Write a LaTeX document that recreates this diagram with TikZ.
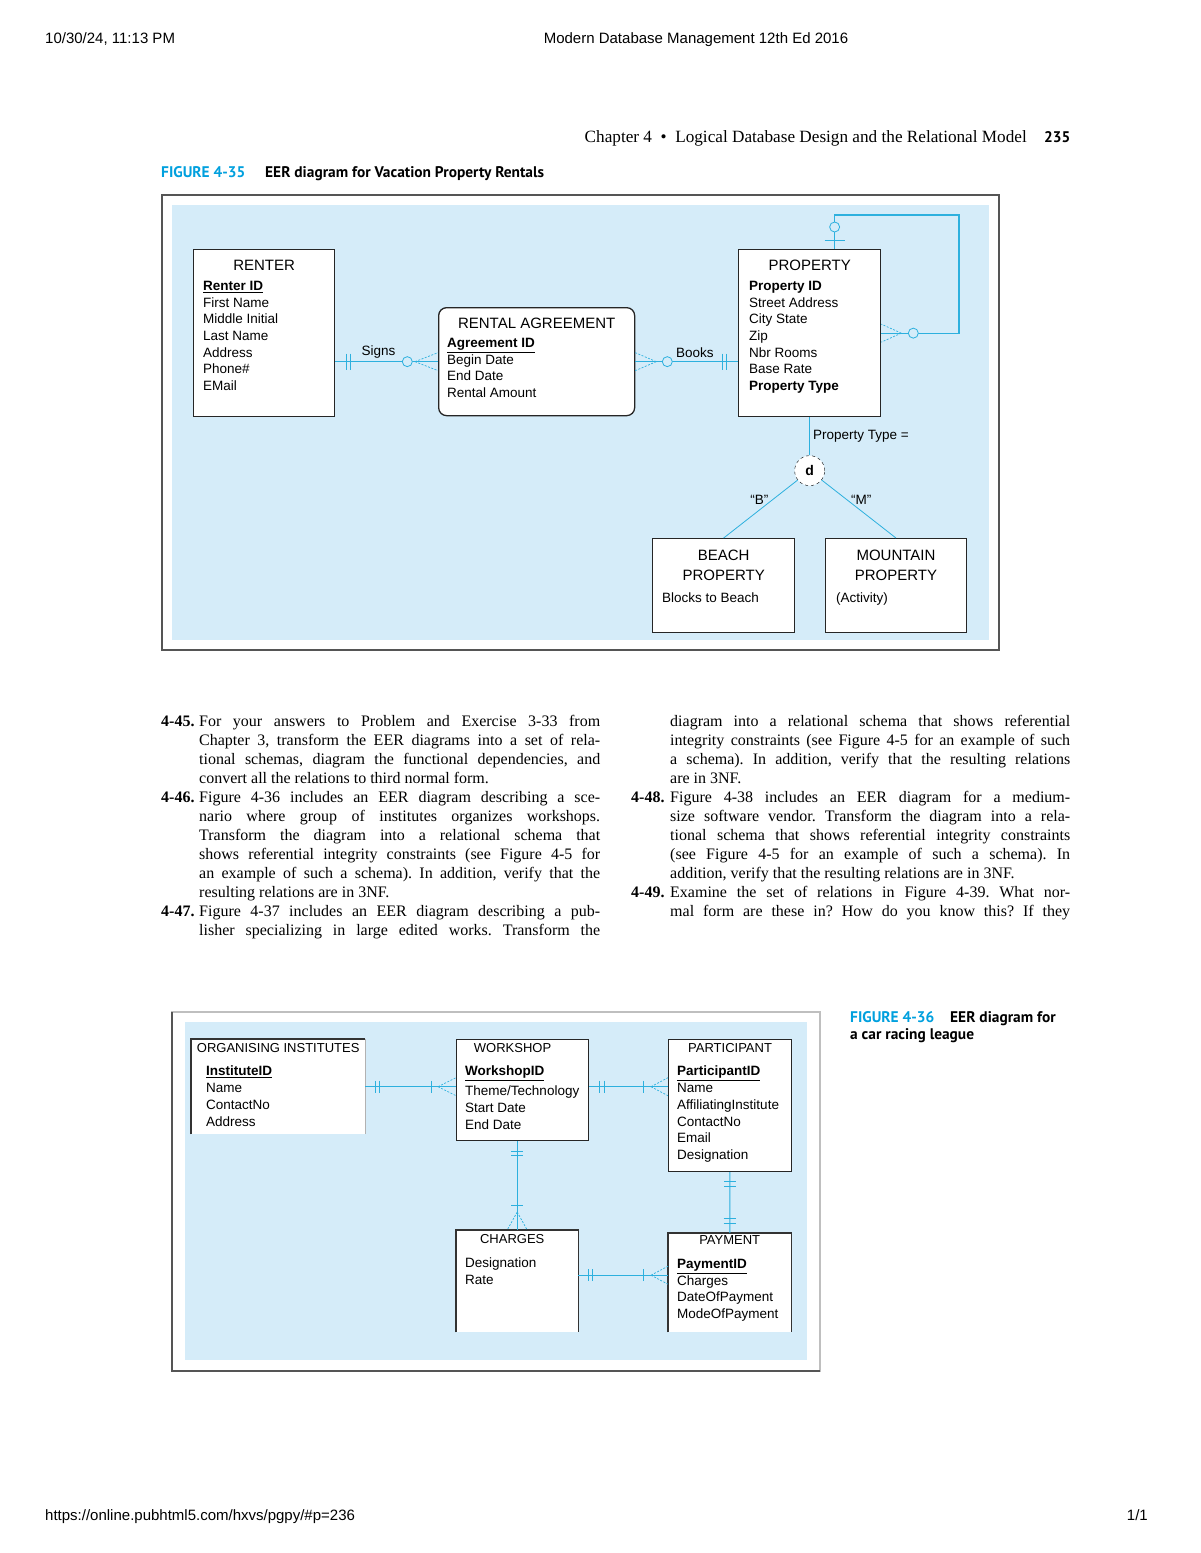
\documentclass[tikz,border=0pt]{standalone}
\usepackage{fontspec}
\setmainfont{Liberation Serif}
\setsansfont{Liberation Sans}
\newfontfamily\capfont{PT Sans}
\usetikzlibrary{shapes,arrows}
\usetikzlibrary{shapes.geometric}
\usetikzlibrary{positioning}

\definecolor{bluebg}{RGB}{213,236,249}
\definecolor{relcol}{RGB}{45,176,222}
\definecolor{figcyan}{RGB}{0,160,222}
\definecolor{framegray}{RGB}{85,85,85}

\tikzstyle{entity} = [draw=black!85, fill=white, rectangle, line width=1.3pt,
anchor=north west, inner sep=0pt]
\tikzstyle{ebox} = [fill=white, rectangle, anchor=north west, inner sep=0pt]
\tikzstyle{border} = [draw=black!80, line width=1.1pt]
\tikzstyle{etitle} = [font=\sffamily\fontsize{15}{20}\selectfont, align=center, inner sep=0pt]
\tikzstyle{stitle} = [font=\sffamily\fontsize{13}{16}\selectfont, inner sep=0pt]
\tikzstyle{attr} = [font=\sffamily\fontsize{13.5}{16.7}\selectfont, align=left, inner sep=0pt]
\tikzstyle{lbl} = [font=\sffamily\fontsize{13.5}{16}\selectfont, inner sep=3pt]
\tikzstyle{line} = [draw=relcol, line width=1.1pt]
\tikzstyle{sline} = [draw=relcol, line width=0.8pt]
\tikzstyle{cbar} = [draw=relcol, line width=1pt]
\tikzstyle{crow} = [draw=relcol, line width=0.7pt, dash pattern=on 2pt off 1.5pt]
\tikzstyle{ring} = [draw=relcol, line width=0.8pt, fill=bluebg]
\tikzstyle{dnode} = [circle, draw=black, dashed, fill=white, minimum size=30pt,
inner sep=0pt, font=\sffamily\bfseries\fontsize{14}{14}\selectfont]
\tikzstyle{hdr} = [font=\sffamily\fontsize{15}{18}\selectfont, inner sep=0pt]
\tikzstyle{runhead} = [font=\rmfamily\fontsize{17.2}{19}\selectfont, inner sep=0pt]
\tikzstyle{figcap} = [font=\capfont\bfseries\fontsize{15.4}{17}\selectfont, inner sep=0pt]
\tikzstyle{body} = [font=\rmfamily\fontsize{16}{19}\selectfont, text width=439pt,
align=justify, inner sep=0pt, anchor=north west]

\begin{document}
\begin{tikzpicture}[x=1pt, y=-1pt, node distance=16pt, auto]
	\path[use as bounding box, fill=white] (0,0) rectangle (1200,1553);
	% Page header and footer
	\node[hdr, anchor=base west] (date) at (45,43) {10/30/24, 11:13 PM};
	\node[hdr, anchor=base] (book) at (696,43) {Modern Database Management 12th Ed 2016};
	\node[hdr, anchor=base west] (url) at (45,1520) {https://online.pubhtml5.com/hxvs/pgpy/\#p=236};
	\node[hdr, anchor=base east] (pg) at (1148,1520) {1/1};
	\node[runhead, anchor=base east] (chap) at (1027,142) {Chapter 4 \ \textbullet\ \ Logical Database Design and the Relational Model};
	\node[figcap, anchor=base west] (pnum) at (1044,142) {235};

	% Figure 4-35
	\node[figcap, anchor=base west] (capA) at (161,177) {\textcolor{figcyan}{FIGURE 4-35}};
	\node[figcap, anchor=base west] (capAt) at (265,177) {EER diagram for Vacation Property Rentals};
	\draw[framegray, line width=1.4pt, fill=white] (162,195) rectangle (999,650);
	\fill[bluebg] (172,205) rectangle (989,640);

	% Place nodes
	\node[entity, minimum width=141pt, minimum height=167pt] (renter) at (193,249) {};
	\node[etitle, below=10.5pt of renter.north] (renterT) {RENTER};
	\node[attr, below right=32pt and 10pt of renter.north west] (renterA) {\textbf{\underline{Renter ID}}\\ First Name\\ Middle Initial\\ Last Name\\ Address\\ Phone\#\\ EMail};

	\node[entity, rounded corners=8pt, minimum width=196pt, minimum height=108pt] (agree) at (438,307) {};
	\node[etitle, below=10.5pt of agree.north] (agreeT) {RENTAL AGREEMENT};
	\node[attr, below right=31pt and 9pt of agree.north west] (agreeA) {\textbf{\underline{Agreement ID}}\\ Begin Date\\ End Date\\ Rental Amount};

	\node[entity, minimum width=142pt, minimum height=167pt] (property) at (738,249) {};
	\node[etitle, below=10.5pt of property.north] (propertyT) {PROPERTY};
	\node[attr, below right=32pt and 11pt of property.north west] (propertyA) {\textbf{Property ID}\\ Street Address\\ City State\\ Zip\\ Nbr Rooms\\ Base Rate\\ \textbf{Property Type}};

	\node[dnode, below of=property, node distance=137.5pt] (d) {d};

	\node[entity, minimum width=142pt, minimum height=94pt] (beach) at (652,538) {};
	\node[etitle, below=11.6pt of beach.north] (beachT) {BEACH\\PROPERTY};
	\node[attr, below right=55pt and 10pt of beach.north west] (beachA) {Blocks to Beach};
	\node[entity, minimum width=141pt, minimum height=94pt, right=29.5pt of beach] (mountain) {};
	\node[etitle, below=11.6pt of mountain.north] (mountainT) {MOUNTAIN\\PROPERTY};
	\node[attr, below right=55pt and 11pt of mountain.north west] (mountainA) {(Activity)};

	% Relationships
	\coordinate (sA) at (renter.east |- agree.west);
	\path[line] (sA) -- node[lbl, above, pos=0.42]{Signs} (agree.west);
	\draw[cbar] ([xshift=11pt]sA) +(0,-8) -- +(0,8);
	\draw[cbar] ([xshift=15pt]sA) +(0,-8) -- +(0,8);
	\draw[ring] ([xshift=72pt]sA) circle (5pt);
	\draw[crow] ([xshift=-23pt]agree.west) -- ([yshift=9pt]agree.west) ([xshift=-23pt]agree.west) -- ([yshift=-9pt]agree.west);

	\coordinate (bA) at (property.west |- agree.east);
	\path[line] (agree.east) -- node[lbl, above, pos=0.58]{Books} (bA);
	\draw[crow] ([xshift=21pt]agree.east) -- ([yshift=9pt]agree.east) ([xshift=21pt]agree.east) -- ([yshift=-9pt]agree.east);
	\draw[ring] ([xshift=32pt]agree.east) circle (5pt);
	\draw[cbar] ([xshift=-16pt]bA) +(0,-8) -- +(0,8);
	\draw[cbar] ([xshift=-12pt]bA) +(0,-8) -- +(0,8);

	\coordinate (loop) at (959,215);
	\path[line] ([xshift=25pt]property.north) |- (loop) |- (property.east);
	\draw[ring] ([xshift=25pt, yshift=22pt]property.north) circle (5pt);
	\draw[cbar] ([xshift=25pt, yshift=9pt]property.north) +(-10,0) -- +(10,0);
	\draw[ring] ([xshift=32pt]property.east) circle (5pt);
	\draw[crow] ([xshift=20pt]property.east) -- ([yshift=9pt]property.east) ([xshift=20pt]property.east) -- ([yshift=-9pt]property.east);

	\path[line] (property) -- node[lbl, right]{Property Type =} (d);
	\path[sline] (d) -- node[lbl, left, pos=0.35]{“B”} (beach.north);
	\path[sline] (d) -- node[lbl, right, pos=0.35]{“M”} (mountain.north);

	% Exercises
	\node[body] (colA) at (161,715) {\frenchspacing\tolerance=10000\hyphenpenalty=10000\exhyphenpenalty=10000%
\hangindent=38pt\hangafter=1\noindent\makebox[38pt][l]{\textbf{4-45.}}For your answers to Problem and Exercise 3-33 from\linebreak Chapter 3, transform the EER diagrams into a set of rela-\linebreak tional schemas, diagram the functional dependencies, and\linebreak convert all the relations to third normal form.\par
\hangindent=38pt\hangafter=1\noindent\makebox[38pt][l]{\textbf{4-46.}}Figure 4-36 includes an EER diagram describing a sce-\linebreak nario where group of institutes organizes workshops.\linebreak Transform the diagram into a relational schema that\linebreak shows referential integrity constraints (see Figure 4-5 for\linebreak an example of such a schema). In addition, verify that the\linebreak resulting relations are in 3NF.\par
\hangindent=38pt\hangafter=1\noindent\makebox[38pt][l]{\textbf{4-47.}}Figure 4-37 includes an EER diagram describing a pub-\linebreak lisher specializing in large edited works. Transform the{\parfillskip=0pt\par}};
	\node[body] (colB) at (631,715) {\frenchspacing\tolerance=10000\hyphenpenalty=10000\exhyphenpenalty=10000%
\hangindent=39pt\hangafter=0\noindent diagram into a relational schema that shows referential\linebreak integrity constraints (see Figure 4-5 for an example of such\linebreak a schema). In addition, verify that the resulting relations\linebreak are in 3NF.\par
\hangindent=39pt\hangafter=1\noindent\makebox[39pt][l]{\textbf{4-48.}}Figure 4-38 includes an EER diagram for a medium-\linebreak size software vendor. Transform the diagram into a rela-\linebreak tional schema that shows referential integrity constraints\linebreak (see Figure 4-5 for an example of such a schema). In\linebreak addition, verify that the resulting relations are in 3NF.\par
\hangindent=39pt\hangafter=1\noindent\makebox[39pt][l]{\textbf{4-49.}}Examine the set of relations in Figure 4-39. What nor-\linebreak mal form are these in? How do you know this? If they{\parfillskip=0pt\par}};

	% Figure 4-36
	\node[figcap, anchor=base west] (capB) at (850,1022) {\textcolor{figcyan}{FIGURE 4-36}};
	\node[figcap, anchor=base west] (capBt) at (950,1022) {EER diagram for};
	\node[figcap, anchor=base west] (capBt2) at (850,1039) {a car racing league};
	\draw[black!25, line width=1.2pt, fill=white] (172,1012) rectangle (820,1371);
	\draw[framegray, line width=1.6pt] (172,1012) -- (172,1371) -- (820,1371);
	\fill[bluebg] (185,1022) rectangle (807,1360);

	\node[ebox, minimum width=174pt, minimum height=95pt] (org) at (191,1039) {};
	\draw[border] (org.south west) |- (org.north east);
	\draw[black!30, line width=1pt] (org.north east) -- (org.south east);
	\node[stitle, below=4pt of org.north] (orgT) {ORGANISING INSTITUTES};
	\node[attr, below right=27pt and 15pt of org.north west] (orgA) {\textbf{\underline{InstituteID}}\\ Name\\ ContactNo\\ Address};

	\node[entity, line width=1.1pt, minimum width=132pt, minimum height=101pt] (workshop) at (456,1039) {};
	\node[stitle, below=4pt of workshop.north, xshift=-10pt] (workshopT) {WORKSHOP};
	\node[attr, below right=27pt and 9pt of workshop.north west] (workshopA) {\textbf{\underline{WorkshopID}}\\[3pt] Theme/Technology\\ Start Date\\ End Date};

	\node[entity, line width=1.1pt, minimum width=123pt, minimum height=132pt] (participant) at (668,1039) {};
	\node[stitle, below=4pt of participant.north] (participantT) {PARTICIPANT};
	\node[attr, below right=27pt and 9pt of participant.north west] (participantA) {\textbf{\underline{ParticipantID}}\\ Name\\ AffiliatingInstitute\\ ContactNo\\ Email\\ Designation};

	\node[ebox, minimum width=122pt, minimum height=102pt] (charges) at (456,1230) {};
	\draw[border] (charges.south west) |- (charges.north east) -- (charges.south east);
	\node[stitle, below=4.5pt of charges.north, xshift=-5pt] (chargesT) {CHARGES};
	\node[attr, below right=28pt and 9pt of charges.north west] (chargesA) {Designation\\ Rate};

	\node[ebox, minimum width=123pt, minimum height=99pt] (payment) at (668,1233) {};
	\draw[border] (payment.south west) |- (payment.north east) -- (payment.south east);
	\node[stitle, below=2.5pt of payment.north] (paymentT) {PAYMENT};
	\node[attr, below right=26pt and 9pt of payment.north west] (paymentA) {\textbf{\underline{PaymentID}}\\ Charges\\ DateOfPayment\\ ModeOfPayment};

	\coordinate (ow) at (org.east -| workshop.west);
	\path[line] (org.east) -- (ow);
	\draw[cbar] ([xshift=10pt]org.east) +(0,-6) -- +(0,6);
	\draw[cbar] ([xshift=14pt]org.east) +(0,-6) -- +(0,6);
	\draw[cbar] ([xshift=-25pt]ow) +(0,-6) -- +(0,6);
	\draw[crow] ([xshift=-18pt]ow) -- ([yshift=9pt]ow) ([xshift=-18pt]ow) -- ([yshift=-9pt]ow);

	\coordinate (wo) at (org.east -| workshop.east);
	\coordinate (wp) at (org.east -| participant.west);
	\path[line] (wo) -- (wp);
	\draw[cbar] ([xshift=10pt]wo) +(0,-6) -- +(0,6);
	\draw[cbar] ([xshift=15pt]wo) +(0,-6) -- +(0,6);
	\draw[cbar] ([xshift=-25pt]wp) +(0,-6) -- +(0,6);
	\draw[crow] ([xshift=-17pt]wp) -- ([yshift=9pt]wp) ([xshift=-17pt]wp) -- ([yshift=-9pt]wp);

	\coordinate (wc) at (workshop.south -| charges.north);
	\path[line] (wc) -- (charges.north);
	\draw[cbar] ([yshift=-10pt]wc) +(-6,0) -- +(6,0);
	\draw[cbar] ([yshift=-14pt]wc) +(-6,0) -- +(6,0);
	\draw[cbar] ([yshift=25pt]charges.north) +(-6,0) -- +(6,0);
	\draw[crow] ([yshift=18pt]charges.north) -- ([xshift=-10pt]charges.north) ([yshift=18pt]charges.north) -- ([xshift=10pt]charges.north);

	\path[line] (participant) -- (payment);
	\draw[cbar] ([yshift=-9pt]participant.south) +(-6,0) -- +(6,0);
	\draw[cbar] ([yshift=-14pt]participant.south) +(-6,0) -- +(6,0);
	\draw[cbar] ([yshift=15pt]payment.north) +(-6,0) -- +(6,0);
	\draw[cbar] ([yshift=10pt]payment.north) +(-6,0) -- +(6,0);

	\coordinate (cp1) at ([yshift=6pt]charges.east);
	\coordinate (cp2) at (cp1 -| payment.west);
	\path[line] (cp1) -- (cp2);
	\draw[cbar] ([xshift=10pt]cp1) +(0,-6) -- +(0,6);
	\draw[cbar] ([xshift=14pt]cp1) +(0,-6) -- +(0,6);
	\draw[cbar] ([xshift=-25pt]cp2) +(0,-6) -- +(0,6);
	\draw[crow] ([xshift=-17pt]cp2) -- ([yshift=9pt]cp2) ([xshift=-17pt]cp2) -- ([yshift=-9pt]cp2);
\end{tikzpicture}
\end{document}
